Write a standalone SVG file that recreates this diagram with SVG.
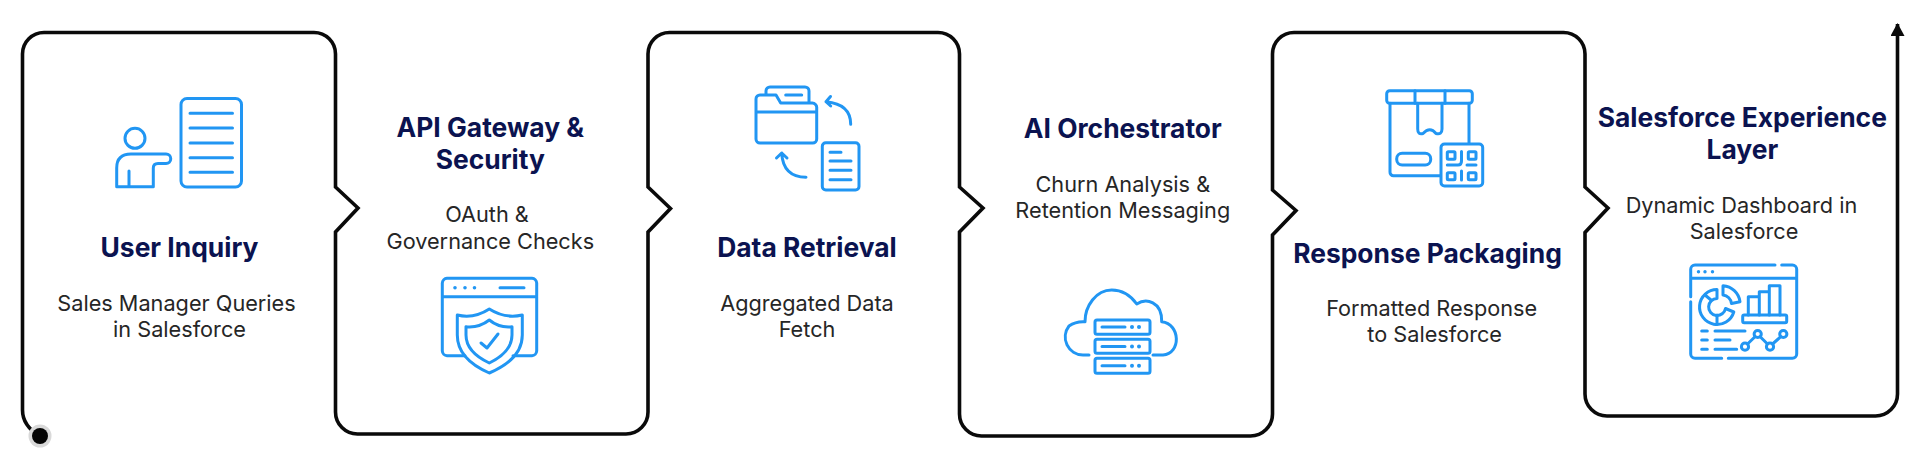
<svg xmlns="http://www.w3.org/2000/svg" width="1920" height="469" viewBox="0 0 1920 469">
<style>
text{text-anchor:middle;font-family:Inter,"Liberation Sans",sans-serif}
.t{font-size:26.400px;font-weight:700;fill:#0b1350}
.b{font-size:21.700px;font-weight:400;fill:#262626}
.i{fill:none;stroke:#2196f3;stroke-width:3;stroke-linecap:round;stroke-linejoin:round}
.f{fill:#2196f3;stroke:none}
.c{fill:none;stroke:#0a0a0a;stroke-width:3.600;stroke-linejoin:miter}
</style>
<defs>
<marker id="arrow" viewBox="0 0 13 14" refX="12" refY="7" markerUnits="userSpaceOnUse" markerWidth="13" markerHeight="14" orient="auto"><path d="M0 0L13 7L0 14Z" fill="#0a0a0a"/></marker>
</defs>
<rect width="1920" height="469" fill="#fff"/>
<g id="connectors">
<path class="c" marker-end="url(#arrow)" d="M40 436Q22.500 426 22.500 410V54A21.500 21.500 0 0 1 44 32.500H314A21.500 21.500 0 0 1 335.500 54V187L358 208L335.500 232V412A22 22 0 0 0 357.500 434H626A22 22 0 0 0 648 412V232L670.500 208.500L648 187V54A21.500 21.500 0 0 1 669.500 32.500H938A21.500 21.500 0 0 1 959.500 54V187L983 208L959.500 232V414A22 22 0 0 0 981.500 436H1250.500A22 22 0 0 0 1272.500 414V235L1296 210.500L1272.500 190V54A21.500 21.500 0 0 1 1294 32.500H1563.500A21.500 21.500 0 0 1 1585 54V187L1608 208L1585 232.500V394A22 22 0 0 0 1607 416H1875.500A22 22 0 0 0 1897.500 394V24"/>
<circle cx="40" cy="436" r="11.500" fill="#d9d9d9"/>
<circle cx="40" cy="436" r="8" fill="#050505"/>
</g>
<g id="node-user-inquiry">
<g class="i">
<rect x="181" y="98.500" width="60.500" height="88.500" rx="6"/>
<path d="M190 113.300H232.500M190 128H232.500M190 143H232.500M190 157.700H232.500M190 172.300H232.500"/>
<circle cx="135" cy="138.300" r="10"/>
<path d="M116.700 186.700V168Q116.700 154 131 154H166A4.500 4.500 0 0 1 166 163.500H158Q153.300 163.500 153.300 168V186.700ZM129 171V186.700"/>
</g>
<text class="t" x="179.500" y="256.700">User Inquiry</text>
<text class="b" x="176.500" y="310.700">Sales Manager Queries</text>
<text class="b" x="179.500" y="336.700">in Salesforce</text>
</g>
<g id="node-api-gateway">
<text class="t" x="490.300" y="136.700">API Gateway &amp;</text>
<text class="t" x="490.300" y="169">Security</text>
<text class="b" x="487" y="222.300">OAuth &amp;</text>
<text class="b" x="490.300" y="249.300">Governance Checks</text>
<g class="i">
<path d="M465 355.700H447A5 5 0 0 1 442.300 351V283A5 5 0 0 1 447 278.300H532A5 5 0 0 1 536.700 283V351A5 5 0 0 1 532 355.700H513M442.300 296.700H536.700M500 287.700H524"/>
<path d="M489.300 309Q474 319 457.300 315V335Q457.300 359 489.300 373Q522.300 359 522.300 335V315Q505 319 489.300 309Z"/>
<path d="M489.300 320Q479 328 466 326.700V335Q466 352 489.300 363Q512 352 512 335V326.700Q499 328 489.300 320Z"/>
<path d="M481 343L487 348L498 334"/>
</g>
<g class="f"><circle cx="455" cy="287.700" r="1.800"/><circle cx="465" cy="287.700" r="1.800"/><circle cx="474.500" cy="287.700" r="1.800"/></g>
</g>
<g id="node-data-retrieval">
<g class="i">
<path d="M760 95H776L780.700 103H812A4.500 4.500 0 0 1 816.700 108V139A4 4 0 0 1 812.700 143H760A4 4 0 0 1 756 139V99A4 4 0 0 1 760 95ZM756 112H816.700M766 95V91A4 4 0 0 1 770 87H805A4 4 0 0 1 809 91V103M785.700 95H801.700"/>
<path d="M850.700 124.300Q850.700 104 826 101.700M830.500 96.500L826 101.700L830.700 106"/>
<rect x="822.300" y="142.700" width="36.700" height="47.300" rx="3.500"/>
<path d="M830 152.300H841M830 161H851M830 170.300H851M830 179.700H851"/>
<path d="M806 177.300Q783 177 781.700 153M776.500 158L781.700 153L787 158"/>
</g>
<text class="t" x="807" y="256.700">Data Retrieval</text>
<text class="b" x="807" y="310.700">Aggregated Data</text>
<text class="b" x="807" y="336.700">Fetch</text>
</g>
<g id="node-ai-orchestrator">
<text class="t" x="1122.800" y="138.300">AI Orchestrator</text>
<text class="b" x="1122.800" y="191.700">Churn Analysis &amp;</text>
<text class="b" x="1122.800" y="218">Retention Messaging</text>
<g class="i">
<path d="M1089 355H1083A18 18 0 0 1 1069 326Q1075 321.700 1083 321.700H1085C1085 306 1096 290 1111.700 290C1122 290 1131 296 1136.700 304C1146 298 1162 301 1161.700 321.700C1181 324 1181 354 1163 355H1153"/>
<rect x="1095" y="320" width="55" height="14.300" rx="2"/>
<rect x="1095" y="339.300" width="55" height="14" rx="2"/>
<rect x="1095" y="358.300" width="55" height="15" rx="2"/>
<path d="M1102 327H1125M1102 346.500H1125M1102 365.800H1125"/>
</g>
<g class="f"><circle cx="1132" cy="327" r="2"/><circle cx="1139" cy="327" r="2"/><circle cx="1132" cy="346.500" r="2"/><circle cx="1139" cy="346.500" r="2"/><circle cx="1132" cy="365.800" r="2"/><circle cx="1139" cy="365.800" r="2"/></g>
</g>
<g id="node-response-packaging">
<g class="i">
<rect x="1386.700" y="90.700" width="85.600" height="12.600" rx="3"/>
<path d="M1415 90.700V103.300M1445 90.700V103.300"/>
<path d="M1390 103.300V172A3.500 3.500 0 0 0 1393.500 175.700H1440M1469 103.300V143.300"/>
<path d="M1417.700 103.300V129Q1417.700 135 1423 133.500Q1430 126 1436 133.500Q1442 135 1442 129V103.300"/>
<rect x="1396.700" y="153.300" width="34" height="11.700" rx="5.500"/>
<rect x="1441" y="144" width="41.700" height="42" rx="3.500"/>
<rect x="1447.300" y="151.700" width="7.700" height="7.600" rx="1"/>
<rect x="1468.300" y="151.700" width="7.700" height="7.600" rx="1"/>
<rect x="1447.300" y="172.700" width="7.700" height="7" rx="1"/>
<rect x="1468.300" y="172.700" width="7.700" height="7" rx="1"/>
<path d="M1461.500 151.500V161Q1461.500 165 1458 165H1447.300M1467 165H1476M1461.500 171V180"/>
</g>
<text class="t" x="1427.500" y="262.700">Response Packaging</text>
<text class="b" x="1431.700" y="316">Formatted Response</text>
<text class="b" x="1434.700" y="342.300">to Salesforce</text>
</g>
<g id="node-experience-layer">
<text class="t" x="1742.300" y="127.300">Salesforce Experience</text>
<text class="t" x="1742.300" y="159.300">Layer</text>
<text class="b" x="1741.500" y="212.700">Dynamic Dashboard in</text>
<text class="b" x="1744" y="239">Salesforce</text>
<g class="i">
<path d="M1775 265H1695A4.300 4.300 0 0 0 1690.700 269.300V296.700M1690.700 301.700V354A4.300 4.300 0 0 0 1695 358.300H1721.700M1728.300 358.300H1792.400A4.300 4.300 0 0 0 1796.700 354V269.300A4.300 4.300 0 0 0 1792.400 265H1781.700M1690.700 278.300H1796.700"/>
<path d="M1717 289.500A17.500 17.500 0 1 0 1733.800 312L1725.500 308.500A8.500 8.500 0 1 1 1717 298.500Z"/>
<path d="M1723 285.700A18.500 18.500 0 0 1 1740 301.700L1731.500 303.500A9.500 9.500 0 0 0 1723 295Z"/>
<path d="M1711 300L1705 295M1717 315V323"/>
<rect x="1742.700" y="315" width="44" height="7.700" rx="1.500"/>
<path d="M1748.300 315V296.700H1759.300M1759.300 315V291.700H1769.300V315M1769.300 291.700V285.700H1780V315"/>
<path d="M1701.700 331H1707.300M1715 331H1745M1701.700 340H1707.300M1715 340H1730M1701.700 349.300H1707.300M1715 349.300H1736.700"/>
<circle cx="1745" cy="346.700" r="3.600"/><circle cx="1757.700" cy="334" r="3.600"/><circle cx="1770" cy="346.700" r="3.600"/><circle cx="1783.300" cy="334" r="3.600"/>
<path d="M1747.500 344L1755 336.700M1760.200 336.700L1767.500 344M1772.500 344L1780.800 336.700"/>
</g>
<g class="f"><circle cx="1698.500" cy="271.700" r="1.700"/><circle cx="1705" cy="271.700" r="1.700"/><circle cx="1712.500" cy="271.700" r="1.700"/></g>
</g>
</svg>
